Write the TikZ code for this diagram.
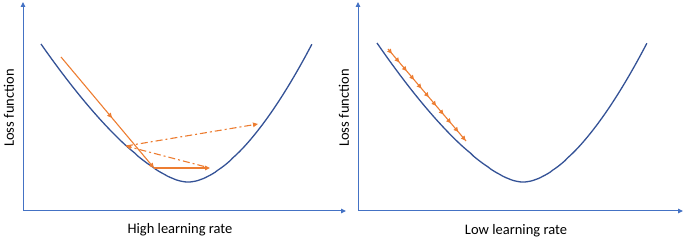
\documentclass[tikz,border=0pt]{standalone}
\usepackage{fontspec}
\setmainfont{Carlito}
\usetikzlibrary{arrows.meta, decorations.markings}
\definecolor{axiscolor}{RGB}{68,114,196}
\definecolor{curvecolor}{RGB}{52,82,150}
\definecolor{stepcolor}{RGB}{237,125,49}

\begin{document}
\begin{tikzpicture}[x=1pt, y=-1pt,
    declare function={
        bowl(\u,\p)=((\u*\u+0.0064)^(\p/2)-0.08^\p)/((1.0064)^(\p/2)-0.08^\p);
    },
    axis/.style={
        draw=axiscolor, line width=1pt,
        -{Triangle[length=5pt, width=4.5pt]}
    },
    loss/.style={draw=curvecolor, line width=1.3pt},
    stepline/.style={
        draw=stepcolor, line width=1.1pt,
        -{Triangle[length=5pt, width=4.5pt]}
    },
    bounce/.style={
        stepline,
        dash pattern=on 7pt off 3pt on 2pt off 3pt
    },
    midarrow/.style={
        postaction={decorate, decoration={markings,
            mark=at position #1 with {\arrow{Triangle[length=5pt, width=4.5pt]}}}}
    },
    tinysteps/.style={
        draw=stepcolor, line width=1.1pt,
        postaction={decorate, decoration={markings,
            mark=between positions 0.05 and 1 step 0.0945 with
                {\arrow{Triangle[length=4.5pt, width=4.5pt]}}}}
    },
    lbl/.style={
        font=\fontsize{14.5}{17}\selectfont,
        inner sep=0pt
    }
]
\useasboundingbox (0,0) rectangle (685,240);

% =========================
% LEFT: HIGH LEARNING RATE
% =========================
\coordinate (O1) at (23,211);
\coordinate (Y1) at (23,2);
\coordinate (X1) at (346,211);
\draw[axis] (O1) -- (Y1);
\draw[axis] (O1) -- (X1);

\draw[loss] plot[domain=-1:1, samples=101]
 ({188+(\x<0 ? 147 : 124)*\x}, {182-138*bowl(\x, (\x<0 ? 1.5 : 1.7))});

\node[lbl, rotate=90] (ylabH) at (9,108) {Loss function};
\node[lbl] (xlabH) at (180,230) {High learning rate};

% steps (overshooting)
\coordinate (h0) at (61,57);
\coordinate (h1) at (154,168);
\coordinate (h2) at (210,168);
\coordinate (h3) at (126,146);
\coordinate (h4) at (258,124);

\draw[stepline, midarrow=0.55] (h0) -- (h1);
\draw[stepline] (h1) -- (h2);
\draw[bounce, shorten <=6pt] (h2) -- (h3);
\draw[bounce] (h3) -- (h4);

% =========================
% RIGHT: LOW LEARNING RATE
% =========================
\begin{scope}[xshift=335pt]
\coordinate (O2) at (23,211);
\coordinate (Y2) at (23,2);
\coordinate (X2) at (348,211);
\draw[axis] (O2) -- (Y2);
\draw[axis] (O2) -- (X2);

\draw[loss] plot[domain=-1:1, samples=101]
 ({188+(\x<0 ? 146 : 124)*\x}, {182-139*bowl(\x, (\x<0 ? 1.5 : 1.7))});

\node[lbl, rotate=90] (ylabL) at (9,108) {Loss function};
\node[lbl] (xlabL) at (181,231) {Low learning rate};

% many small steps
\coordinate (l0) at (53,49);
\coordinate (l1) at (131,141);
\draw[tinysteps] (l0) -- (l1);
\end{scope}

\end{tikzpicture}
\end{document}
